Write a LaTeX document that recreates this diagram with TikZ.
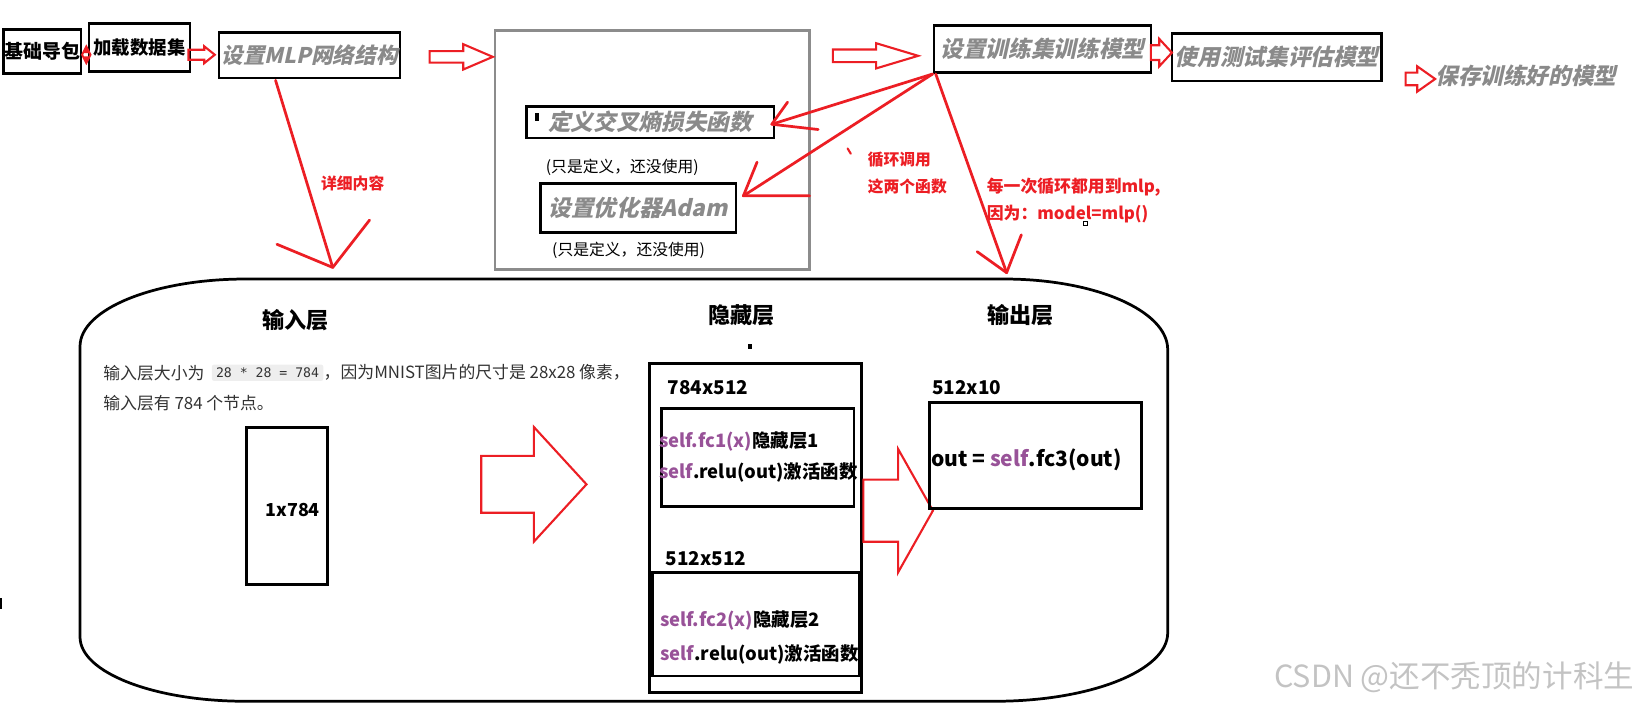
\documentclass[tikz,border=0pt]{standalone}
\usepackage{fontspec}
\setmainfont{Noto Sans CJK SC}
\newfontfamily\slfont{Noto Sans CJK SC}[FakeSlant=0.22]
\newfontfamily\codefont{DejaVu Sans Mono}
\usetikzlibrary{calc}
\definecolor{myred}{RGB}{236,30,36}
\definecolor{mygray}{RGB}{138,138,138}
\definecolor{boxgray}{RGB}{140,140,140}
\definecolor{mypurple}{RGB}{152,82,152}
\definecolor{chipgray}{RGB}{238,238,238}
\definecolor{wmgray}{RGB}{195,195,195}
\definecolor{desc}{RGB}{50,50,50}
\newcommand\fs[1]{\fontsize{#1}{#1}\selectfont}
\newcommand\harr[6]{%
  \draw[harrow] (#1,#4-#5) -- (#2,#4-#5) -- (#2,#4-#6) -- (#3,#4) -- (#2,#4+#6) -- (#2,#4+#5) -- (#1,#4+#5) -- cycle;}
\tikzset{
  blk/.style={draw=black, line width=2.6pt, inner sep=0pt},
  gtxt/.style={font=\slfont\bfseries\fs{21.5}, text=mygray},
  rline/.style={draw=myred, line width=2.6pt, line cap=round, line join=round},
  harrow/.style={draw=myred, line width=2pt, line join=miter},
  rlab/.style={text=myred, font=\bfseries\fs{15}, inner sep=0pt},
  title/.style={font=\bfseries\fs{21}},
  code/.style={font=\bfseries\fs{17.5}, inner sep=0pt, anchor=west},
  dimlab/.style={font=\bfseries\fs{18}, inner sep=0pt, anchor=west},
  dsc/.style={font=\fs{16}, text=desc, inner sep=0pt, anchor=west}
}
\begin{document}
\begin{tikzpicture}[x=1pt,y=-1pt]
\useasboundingbox (0,0) rectangle (1568,671);

% ---------- top row ----------
\node[blk, minimum width=74, minimum height=42, font=\bfseries\fs{18}] (jc) at (40,49) {基础导包};
\node[blk, minimum width=96, minimum height=46, font=\bfseries\fs{17.5}] (jz) at (132.5,45) {加载数据集};
\node[blk, minimum width=172, minimum height=43, gtxt, font=\slfont\bfseries\fs{20.5}] (mlp) at (294,52.5) {设置MLP网络结构};
\node[draw=boxgray, line width=2.6pt, minimum width=299, minimum height=227, inner sep=0pt] (gb) at (619.5,142.5) {};
\node[blk, minimum width=235, minimum height=30, gtxt] (ce) at (617.5,116) {定义交叉熵损失函数};
\node[fill=black, minimum width=3, minimum height=7, inner sep=0pt] (mk) at (510,111) {};
\node[font=\fs{15}, inner sep=0pt] (n1) at (591,159) {(只是定义，还没使用)};
\node[blk, minimum width=186, minimum height=47, gtxt] (adam) at (606,197.5) {设置优化器Adam};
\node[font=\fs{15}, inner sep=0pt] (n2) at (597,238) {(只是定义，还没使用)};
\node[blk, minimum width=206, minimum height=45, gtxt] (tr) at (990,46.5) {设置训练集训练模型};
\node[blk, minimum width=199, minimum height=45, gtxt] (te) at (1212.5,54.5) {使用测试集评估模型};
\node[gtxt, anchor=west, inner sep=0pt] (sv) at (1363,72) {保存训练好的模型};

% small double arrow between first two boxes
\draw[harrow, line width=1.8pt] (78,52) -- (81,46) -- (81,49.5) -- (83,49.5) -- (83,46) -- (86,52) -- (83,58) -- (83,54.5) -- (81,54.5) -- (81,58) -- cycle;
% hollow arrows
\harr{179}{194}{204}{52}{4.7}{8}
\harr{408}{440}{468}{54}{5.5}{12}
\harr{791}{832}{872}{53}{6}{12}
\harr{1093}{1101}{1113}{50}{7}{13}
\harr{1335}{1346}{1363}{75}{6}{12}

% ---------- red line arrows ----------
\coordinate (t1) at (316,254);
\coordinate (h1a) at (263,232);
\coordinate (h1b) at (351,209);
\draw[rline] ($(mlp.south west)+(55,1)$) -- (t1);
\draw[rline] (h1a) -- (t1) -- (h1b);
\node[rlab] (lab1) at (335,174) {详细内容};

\coordinate (t2) at (733,118);
\coordinate (h2a) at (748,97);
\coordinate (h2b) at (777,123);
\draw[rline] (tr.south west) -- (t2);
\draw[rline] (h2a) -- (t2) -- (h2b);

\coordinate (t3) at (706,186);
\coordinate (h3a) at (719,154);
\coordinate (h3b) at (769,186);
\draw[rline] (tr.south west) -- (t3);
\draw[rline] (h3a) -- (t3) -- (h3b);

\coordinate (t4) at (956,259);
\coordinate (h4a) at (928,239);
\coordinate (h4b) at (970,223);
\draw[rline] ($(tr.south west)+(3,0)$) -- (t4);
\draw[rline] (h4a) -- (t4) -- (h4b);

\draw[rline, line width=2pt] (805,141) -- (808,146);
\node[rlab, anchor=west] (lab2) at (824,152) {循环调用};
\node[rlab, anchor=west] (lab3) at (824,177) {这两个函数};
\node[rlab, anchor=west, font=\bfseries\fs{16}] (lab4) at (937,178) {每一次循环都用到mlp,};
\node[rlab, anchor=west, font=\bfseries\fs{16}] (lab5) at (937,203) {因为：model=mlp()};
\node[draw=black, line width=0.8pt, minimum size=3.5, inner sep=0pt] (sq) at (1031,212) {};

% ---------- big rounded container ----------
\draw[line width=2.6pt] (233,265) -- (954,265)
  .. controls (954+0.5523*155,265) and (1109,332-0.5523*67) .. (1109,332)
  -- (1109,601)
  .. controls (1109,601+0.5523*65) and (945+0.5523*164,666) .. (945,666)
  -- (233,666)
  .. controls (233-0.5523*157,666) and (76,605+0.5523*61) .. (76,605)
  -- (76,329)
  .. controls (76,329-0.5523*64) and (233-0.5523*157,265) .. (233,265) -- cycle;

\node[title] (inl) at (281,304) {输入层};
\node[title] (hl) at (704,299) {隐藏层};
\node[title] (ol) at (969,299) {输出层};
\node[fill=black, minimum size=4, inner sep=0pt] (dot) at (712,329) {};

% input description
\node[dsc] (d1) at (98,354) {输入层大小为};
\node[fill=chipgray, rounded corners=2pt, inner xsep=4pt, inner ysep=3pt, font=\codefont\fs{12.5}, text=desc, anchor=west] (chip) at (201,354) {28 * 28 = 784};
\node[dsc] (d2) at (chip.east) {，因为MNIST图片的尺寸是 28x28 像素，};
\node[dsc] (d3) at (98,383) {输入层有 784 个节点。};

\node[blk, minimum width=77, minimum height=149] (ib) at (272.5,480.5) {};
\node[font=\bfseries\fs{17}, inner sep=0pt] (ibt) at (278,484) {1x784};

\harr{457}{507}{557}{460}{27}{54.5}

% hidden layer
\node[blk, minimum width=201, minimum height=313] (hb) at (717.5,501.5) {};
\node[dimlab] (dm1) at (634,368) {784x512};
\node[blk, minimum width=183, minimum height=93] (hb1) at (719.5,434.5) {};
\node[code] (c1) at (626,419) {{\color{mypurple}self.fc1(x)}隐藏层1};
\node[code] (c2) at (626,449) {{\color{mypurple}self}.relu(out)激活函数};
\node[dimlab] (dm2) at (632,531) {512x512};
\node[blk, minimum width=196, minimum height=98] (hb2) at (718,593) {};
\node[code] (c3) at (627,589) {{\color{mypurple}self.fc2(x)}隐藏层2};
\node[code] (c4) at (627,622) {{\color{mypurple}self}.relu(out)激活函数};

\harr{820}{853}{886}{485}{29.5}{58.5}

% output layer
\node[dimlab] (dm3) at (885,368) {512x10};
\node[blk, minimum width=201, minimum height=101] (ob) at (983.5,432.5) {};
\node[code, font=\bfseries\fs{20}] (c5) at (884,437) {out = {\color{mypurple}self}.fc3(out)};

% marks and watermark
\draw[line width=1.5pt] (1,568) -- (1,578);
\node[text=wmgray, font=\fs{29}, inner sep=0pt] (wm) at (1381,643) {CSDN @还不秃顶的计科生};
\end{tikzpicture}
\end{document}
